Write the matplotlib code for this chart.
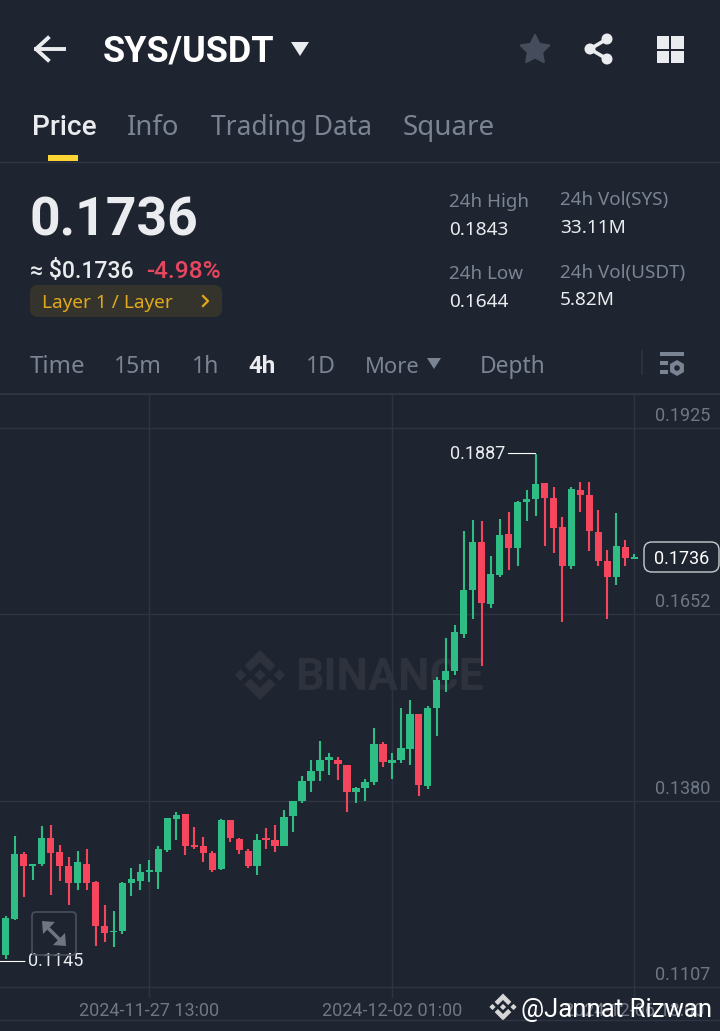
import matplotlib
matplotlib.use('Agg')
import numpy as np
import matplotlib.pyplot as plt
from matplotlib.patches import Polygon, Rectangle, FancyBboxPatch, Circle, RegularPolygon

# 4h candles, first one is just cut off by the left edge
first_candle = '2024-11-24 17:00'
opens = [.1187, .1154, .1207, .1302, .1284, .1287, .1326, .1305, .1284, .1260, .1288, .1261, .1197, .1188, .1189,
         .1259, .1263, .1276, .1276, .1308, .1353, .1360, .1315, .1314, .1303, .1280, .1351, .1324, .1307, .1284,
         .1326, .1323, .1314, .1357, .1379, .1408, .1423, .1440, .1440, .1432, .1393, .1398, .1407, .1463, .1435,
         .1439, .1456, .1506, .1402, .1516, .1556, .1570, .1624, .1688, .1758, .1667, .1710, .1770, .1749, .1816,
         .1821, .1844, .1822, .1780, .1723, .1834, .1826, .1773, .1730, .1707, .1750, .1733]
highs = [.1190, .1212, .1328, .1305, .1288, .1343, .1344, .1315, .1298, .1306, .1310, .1263, .1227, .1219, .1261,
         .1281, .1287, .1293, .1314, .1355, .1364, .1361, .1341, .1327, .1306, .1353, .1351, .1325, .1309, .1331,
         .1340, .1345, .1366, .1380, .1416, .1439, .1467, .1450, .1443, .1432, .1400, .1411, .1486, .1465, .1450,
         .1516, .1527, .1506, .1518, .1561, .1617, .1637, .1774, .1790, .1789, .1737, .1792, .1801, .1817, .1834,
         .1887, .1844, .1838, .1794, .1838, .1845, .1845, .1804, .1746, .1800, .1761, .1740]
lows = [.1145, .1149, .1205, .1239, .1264, .1284, .1242, .1263, .1228, .1249, .1249, .1167, .1173, .1166, .1185,
        .1241, .1249, .1261, .1251, .1305, .1322, .1301, .1309, .1291, .1275, .1279, .1320, .1302, .1281, .1272,
        .1310, .1305, .1313, .1334, .1377, .1393, .1408, .1418, .1410, .1364, .1376, .1379, .1403, .1429, .1411,
        .1435, .1432, .1387, .1397, .1475, .1539, .1563, .1617, .1645, .1577, .1661, .1706, .1717, .1723, .1788,
        .1795, .1752, .1742, .1641, .1718, .1802, .1745, .1722, .1645, .1695, .1722, .1733]
closes = [.1153, .1209, .1302, .1285, .1287, .1326, .1303, .1284, .1260, .1290, .1260, .1197, .1186, .1190, .1260,
          .1265, .1276, .1279, .1309, .1354, .1359, .1314, .1312, .1304, .1278, .1351, .1325, .1308, .1284, .1323,
          .1323, .1314, .1356, .1379, .1408, .1423, .1440, .1443, .1433, .1393, .1398, .1407, .1463, .1437, .1440,
          .1457, .1506, .1403, .1516, .1556, .1569, .1626, .1687, .1758, .1669, .1711, .1768, .1749, .1816, .1821,
          .1843, .1822, .1778, .1722, .1835, .1826, .1774, .1730, .1706, .1752, .1734, .1736]
price_ticks = [0.1925, 0.1652, 0.1380, 0.1107]
date_ticks = ['2024-11-27 13:00', '2024-12-02 01:00', '2024-12-06 13:00']
date_tick_pos = [17, 44, 71]

BG = '#1f2530'
GRID = '#2e3441'
GREEN = '#2ebd85'
RED = '#f6465d'
WHITE = '#eaecef'
GREY = '#7b8494'
AXIS_TEXT = '#6f7785'
UI_FONT = 'Noto Sans'
CHART_FONT = 'Roboto'

plt.rcParams['font.family'] = [UI_FONT, 'DejaVu Sans']
W, H = 720, 1031
fig = plt.figure(figsize=(W / 100, H / 100), dpi=100, facecolor=BG)


def pixel_axes(zorder):
    # full figure axes in screenshot pixels, for the app chrome
    a = fig.add_axes([0, 0, 1, 1], zorder=zorder)
    a.set_xlim(0, W)
    a.set_ylim(H, 0)
    a.axis('off')
    return a


def px(size):
    return size * 0.72


def logo(a, cx, cy, r, color):
    chevron = np.array([(0, -1), (.62, -.38), (.38, -.14), (0, -.52), (-.38, -.14), (-.62, -.38)])
    diamond = np.array([(0, -.23), (.23, 0), (0, .23), (-.23, 0)])
    for sign in [1, -1]:
        a.add_patch(Polygon(chevron * [1, sign] * r + [cx, cy], color=color, lw=0))
    for dx in [-.78, 0, .78]:
        a.add_patch(Polygon((diamond + [dx, 0]) * r + [cx, cy], color=color, lw=0))


back = pixel_axes(0)
front = pixel_axes(2)


def label(x, y, s, size, color=GREY, weight='normal', ha='left', family=UI_FONT):
    front.text(x, y, s, fontsize=px(size), color=color, fontweight=weight, ha=ha, va='baseline',
               family=[family, 'DejaVu Sans'])


# watermark sits under the candles
logo(back, 260, 675, 25, '#2d323d')
back.text(295, 690, 'BINANCE', fontsize=px(44.5), color='#2d323d', fontweight='bold', va='baseline',
          family=['Roboto', 'DejaVu Sans'])

# candles
ax = fig.add_axes([0, 1 - 998 / H, 1, (998 - 394) / H], zorder=1)
ax.patch.set_alpha(0)
price_per_px = (price_ticks[0] - price_ticks[-1]) / (988 - 428)
ax.set_ylim(price_ticks[-1] - 10.5 * price_per_px, price_ticks[-1] + (987.5 - 394) * price_per_px)
ax.set_xlim(0.36, 80.54)

o, h, l, c = map(np.array, (opens, highs, lows, closes))
xs = np.arange(len(o))
colors = np.where(c >= o, GREEN, RED)
ax.vlines(xs, l, h, colors=colors, lw=1.5, zorder=3)
ax.bar(xs, np.maximum(np.abs(c - o), price_per_px), bottom=np.minimum(o, c), width=0.82, color=colors, zorder=3)

ax.set_yticks(price_ticks)
ax.set_xticks(date_tick_pos)
ax.set_xticklabels(date_ticks, fontsize=px(18), color=AXIS_TEXT, family=[CHART_FONT, 'DejaVu Sans'])
ax.set_yticklabels([])
ax.tick_params(length=0, pad=3)
ax.grid(True, color=GRID, lw=1)
ax.set_axisbelow(True)
for name, s in ax.spines.items():
    s.set_visible(name == 'top')
    s.set_color(GRID)
    s.set_linewidth(1.5)

for p in price_ticks:
    ax.annotate(f'{p:.4f}', xy=(1, p), xycoords=ax.get_yaxis_transform(), xytext=(-10, 7),
                textcoords='offset pixels', ha='right', va='baseline', fontsize=px(18), color=AXIS_TEXT,
                family=[CHART_FONT, 'DejaVu Sans'])

i_hi, i_lo = h.argmax(), l.argmin()
line = dict(arrowstyle='-', color='white', lw=0.8, shrinkA=0, shrinkB=0)
ax.annotate(f'{h[i_hi]:.4f}', xy=(i_hi, h[i_hi]), xytext=(-30, 0), textcoords='offset pixels', ha='right',
            va='center', fontsize=px(18), color=WHITE, arrowprops=line, family=[CHART_FONT, 'DejaVu Sans'])
ax.annotate(f'{l[i_lo]:.4f}', xy=(i_lo, l[i_lo]), xytext=(31, 0), textcoords='offset pixels', ha='left',
            va='center', fontsize=px(18), color=WHITE, arrowprops=line, family=[CHART_FONT, 'DejaVu Sans'],
            annotation_clip=False)

# header
front.plot([36, 64], [49, 49], color=WHITE, lw=2.8)
front.plot([48, 36, 48], [38, 49, 60], color=WHITE, lw=2.8)
label(103, 62, 'SYS/USDT', 36, 'white', 'bold', family='Roboto')
front.add_patch(Polygon([(291, 42), (309, 42), (300, 56)], color=WHITE, lw=0))
angles = np.deg2rad(np.arange(10) * 36 - 90)
radii = np.tile([15, 7.5], 5)
star = np.column_stack([535 + radii * np.cos(angles), 50 + radii * np.sin(angles)])
front.add_patch(Polygon(star, fc='#454d5c', ec='#454d5c', lw=1.5, joinstyle='round'))
for cy, cx in [(39, 607), (59, 607)]:
    front.plot([590, cx], [49, cy], color=WHITE, lw=2.6)
    front.add_patch(Circle((cx, cy), 5.5, color=WHITE, lw=0))
front.add_patch(Circle((590, 49), 5.5, color=WHITE, lw=0))
for gx in [656.5, 671]:
    for gy in [36, 50.5]:
        front.add_patch(Rectangle((gx, gy), 12.5, 12.5, color=WHITE, lw=0))

label(32, 135, 'Price', 28, WHITE, 'medium', family='Roboto')
label(127, 135, 'Info', 27.5)
label(211, 135, 'Trading Data', 26.4)
label(403, 135, 'Square', 27.8)
front.add_patch(Rectangle((48, 155), 30, 6, color='#fcd535', lw=0))
front.plot([0, W], [162, 162], color=GRID, lw=1)

# price block
label(30, 235, '0.1736', 53.5, WHITE, 'bold', family='Roboto')
label(30, 278, '≈ $0.1736', 23, WHITE, 'medium', family='Roboto')
label(146, 278, '-4.98%', 24.5, '#e8455f', 'medium', family='Roboto')
front.add_patch(FancyBboxPatch((36, 291), 180, 20, boxstyle='round,pad=6,rounding_size=8', color='#35342c', lw=0))
label(42, 308, 'Layer 1 / Layer', 19, '#e0a81c')
front.plot([203, 208, 203], [296, 301, 306], color='#e0a81c', lw=1.6)

label(449, 207, '24h High', 18.8)
label(449, 235, '0.1843', 19, WHITE)
label(560, 205, '24h Vol(SYS)', 18.8)
label(560, 233, '33.11M', 19, WHITE)
label(449, 279, '24h Low', 18.8)
label(449, 307, '0.1644', 19, WHITE)
label(560, 278, '24h Vol(USDT)', 18.8)
label(560, 305, '5.82M', 19, WHITE)

# interval row
for tx, s, sz in [(30, 'Time', 24), (114, '15m', 23), (192, '1h', 23), (306, '1D', 23), (365, 'More', 22),
                  (480, 'Depth', 22.8)]:
    label(tx, 373, s, sz)
label(248, 373, '4h', 24, WHITE, 'bold', family='Roboto')
front.add_patch(Polygon([(427, 358), (441, 358), (434, 369)], color=GREY, lw=0))
front.plot([642, 642], [351, 374], color=GRID, lw=1.2)
front.add_patch(Rectangle((660, 352), 24, 4, color=GREY, lw=0))
for by in [361, 370]:
    front.add_patch(Rectangle((660, by), 7.5, 3.5, color=GREY, lw=0))
front.add_patch(RegularPolygon((677, 368), 6, radius=8, color=GREY, lw=0))
front.add_patch(Circle((677, 368), 2.8, color=BG, lw=0))

# last price tag
front.add_patch(FancyBboxPatch((650, 548), 63, 18, boxstyle='round,pad=6,rounding_size=8', fc=BG, ec='#c8ccd2', lw=1))
label(682, 564, f'{c[-1]:.4f}', 18, 'white', ha='center', family=CHART_FONT)

# expand button
front.add_patch(FancyBboxPatch((35, 915), 38, 37, boxstyle='round,pad=3,rounding_size=4', fc='none', ec='#4a505c', lw=1.2))
front.plot([46, 62], [926, 942], color='#6e7684', lw=2.5)
front.add_patch(Polygon([(42, 921), (55, 922), (43, 934)], color='#6e7684', lw=0))
front.add_patch(Polygon([(66, 946), (53, 945), (65, 933)], color='#6e7684', lw=0))

# bottom rule and attribution
front.plot([0, W], [1020, 1020], color=GRID, lw=1)
logo(front, 503, 1007, 13.5, '#d6d6d6')
label(521, 1017, '@Jannat Rizwan', 25.7, 'white', family='Roboto')

fig.savefig('out.png', dpi=100, facecolor=BG)
